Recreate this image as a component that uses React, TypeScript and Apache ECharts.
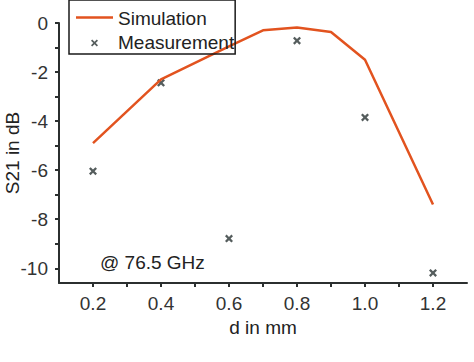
import React, { useEffect, useRef } from "react";
import * as echarts from "echarts";

const simX = [0.2, 0.4, 0.6, 0.7, 0.8, 0.9, 1.0, 1.2];
const simY = [-4.9, -2.3, -0.95, -0.3, -0.18, -0.37, -1.5, -7.4];
const measX = [0.2, 0.4, 0.6, 0.8, 1.0, 1.2];
const measY = [-6.04, -2.44, -8.79, -0.72, -3.85, -10.19];
const xLabels = [0.2, 0.4, 0.6, 0.8, 1.0, 1.2];
const xTicks = [0.2, 0.3, 0.4, 0.5, 0.6, 0.7, 0.8, 0.9, 1.0, 1.1, 1.2];
const yLabels = [0, -2, -4, -6, -8, -10];
const yTicks = [0, -1, -2, -3, -4, -5, -6, -7, -8, -9, -10];

const CROSS =
  "path://M0,2 L2,0 L5,3 L8,0 L10,2 L7,5 L10,8 L8,10 L5,7 L2,10 L0,8 L3,5 Z";
// legend icons drawn inside a 37x14 box (tiny corner dots set the bounds)
const BOUNDS = "M0,0 L0.01,0 L0,0.01 Z M37,14 L36.99,14 L37,13.99 Z ";
const LEGEND_CROSS =
  "path://" + BOUNDS +
  "M15,5.2 L16.2,4 L18.5,6.3 L20.8,4 L22,5.2 L19.7,7.5 L22,9.8 L20.8,11 L18.5,8.7 L16.2,11 L15,9.8 L17.3,7.5 Z";
const LEGEND_LINE = "path://" + BOUNDS + "M0,4.8 L37,4.8 L37,7.2 L0,7.2 Z";

export default function App() {
  const ref = useRef<HTMLDivElement>(null);
  useEffect(() => {
    if (!ref.current) return;
    const chart = echarts.init(ref.current, null, { renderer: "svg" });
    const font = "Liberation Sans, Arial, sans-serif";
    const axisCol = "#2b2f2f";
    const fs = 19;
    chart.setOption({
      animation: false,
      textStyle: { fontFamily: font },
      grid: { left: 59, right: 7, top: 23, bottom: 79, containLabel: false, outerBoundsMode: "none" },
      legend: {
        orient: "vertical",
        left: 69,
        top: 0,
        borderColor: "#1a1a1a",
        borderWidth: 1.5,
        padding: [9, 1, 2, 7],
        itemWidth: 37,
        itemHeight: 14,
        itemGap: 5,
        textStyle: { fontSize: fs, color: "#222", fontFamily: font },
        data: [
          { name: "Simulation", icon: LEGEND_LINE, itemStyle: { color: "#e2531f" } },
          { name: "Measurement", icon: LEGEND_CROSS, itemStyle: { color: "#2a3535" } },
        ],
      },
      xAxis: {
        type: "value",
        min: 0.1,
        max: 1.3,
        name: "d in mm",
        nameLocation: "middle",
        nameGap: 35,
        nameMoveOverlap: false,
        nameTextStyle: { fontSize: fs, color: "#222" },
        axisLine: { onZero: false, lineStyle: { color: axisCol, width: 2 } },
        axisTick: { customValues: xTicks, length: 4, lineStyle: { color: axisCol, width: 2 } },
        axisLabel: {
          customValues: xLabels,
          fontSize: fs,
          color: "#333",
          margin: 11,
          formatter: (v: number) => v.toFixed(1),
        },
        splitLine: { show: false },
      },
      yAxis: {
        type: "value",
        min: -10.6,
        max: 0,
        name: "S21 in dB",
        nameLocation: "middle",
        nameRotate: 90,
        nameGap: 37,
        nameMoveOverlap: false,
        nameTextStyle: { fontSize: fs, color: "#222" },
        axisLine: { show: true, onZero: false, lineStyle: { color: axisCol, width: 2 } },
        axisTick: { show: true, customValues: yTicks, length: 4, lineStyle: { color: axisCol, width: 2 } },
        axisLabel: {
          customValues: yLabels,
          fontSize: fs,
          color: "#333",
          margin: 11,
          formatter: (v: number) => String(Math.round(v)),
        },
        splitLine: { show: false },
      },
      graphic: [
        {
          type: "text",
          left: 100,
          top: 253,
          style: { text: "@ 76.5 GHz", fontSize: fs, fill: "#222", fontFamily: font },
        },
      ],
      series: [
        {
          name: "Simulation",
          type: "line",
          data: simX.map((x, i) => [x, simY[i]]),
          showSymbol: false,
          symbol: "none",
          lineStyle: { color: "#e2531f", width: 2.5 },
          itemStyle: { color: "#e2531f" },
        },
        {
          name: "Measurement",
          type: "scatter",
          data: measX.map((x, i) => [x, measY[i]]),
          symbol: CROSS,
          symbolSize: 8,
          itemStyle: { color: "#2a3535" },
        },
      ],
    });
    return () => chart.dispose();
  }, []);
  return <div ref={ref} style={{ width: 474, height: 362, position: "absolute", left: 0, top: 0 }} />;
}
